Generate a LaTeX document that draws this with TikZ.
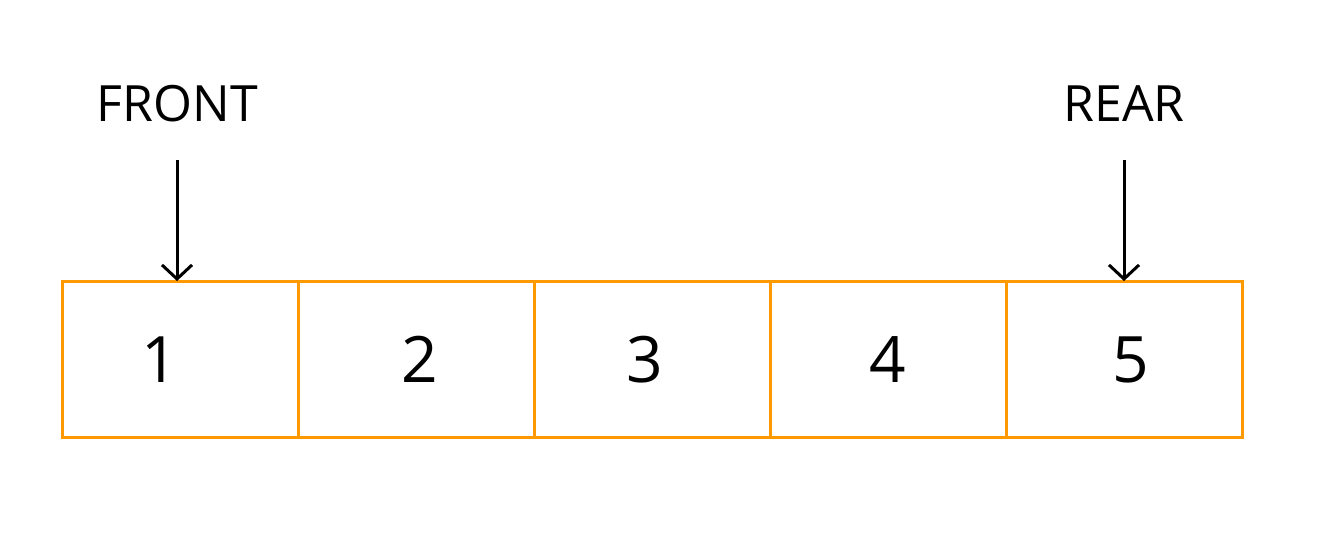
\documentclass[tikz,border=0pt]{standalone}
\usepackage{fontspec}
\setmainfont{Open Sans}
\usetikzlibrary{arrows.meta}
\definecolor{qorange}{HTML}{FF9900}
\begin{document}
\begin{tikzpicture}[x=1pt,y=1pt,
  cellbox/.style={draw=qorange,line width=3pt,minimum width=236pt,minimum height=155pt,inner sep=0pt,outer sep=0pt,anchor=south west},
  numlabel/.style={font=\fontsize{64}{64}\selectfont,inner sep=0pt},
  toplabel/.style={font=\fontsize{50}{50}\selectfont,inner sep=0pt},
  pointer/.style={line width=3pt,-{Straight Barb[length=14pt,width=30pt,line width=3pt]}}]
\useasboundingbox (0,0) rectangle (1320,536);
\node[cellbox] (c1) at (62,99) {};
\node[cellbox] (c2) at (298,99) {};
\node[cellbox] (c3) at (534,99) {};
\node[cellbox] (c4) at (770,99) {};
\node[cellbox] (c5) at (1006,99) {};
\node[numlabel] (n1) at ([xshift=-20pt]c1.center) {1};
\node[numlabel] (n2) at ([xshift=4pt]c2.center) {2};
\node[numlabel] (n3) at ([xshift=-7pt]c3.center) {3};
\node[numlabel] (n4) at (c4.center) {4};
\node[numlabel] (n5) at ([xshift=7pt]c5.center) {5};
\node[toplabel] (front) at (177.5,432.5) {FRONT};
\node[toplabel] (rear) at (1124,432.5) {REAR};
\coordinate (fs) at (177,376);
\coordinate (ft) at (177,255);
\coordinate (rs) at (1124,376);
\coordinate (rt) at (1124,255);
\draw[pointer] (fs) -- (ft);
\draw[pointer] (rs) -- (rt);
\end{tikzpicture}
\end{document}
